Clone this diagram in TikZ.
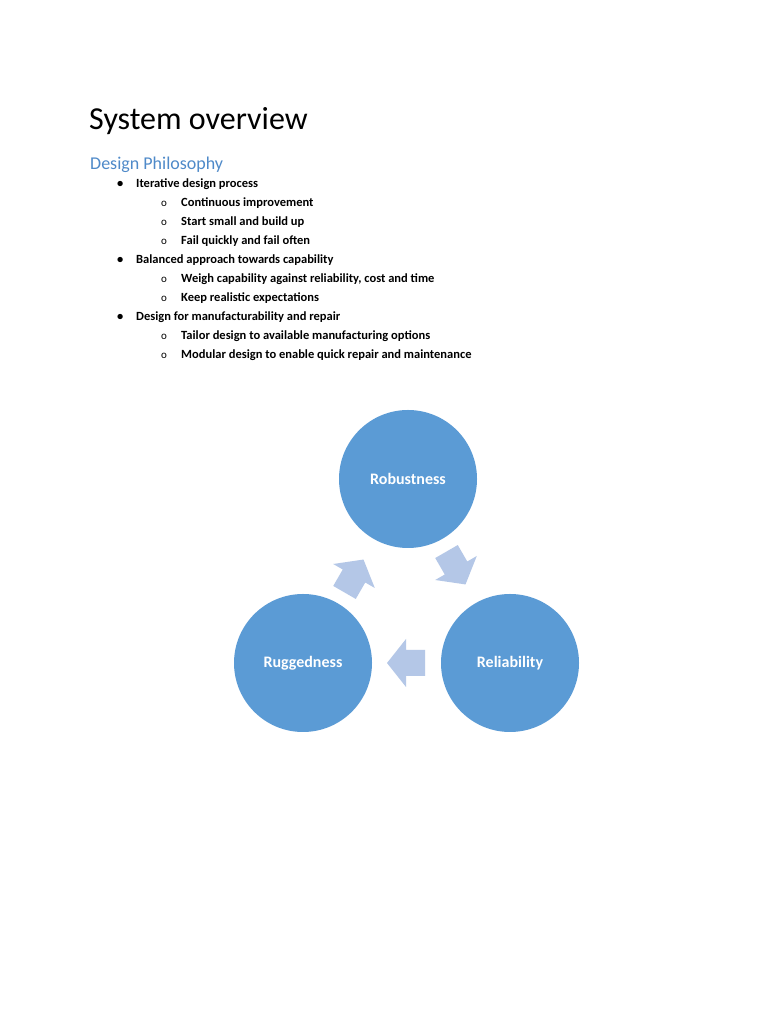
\documentclass[tikz,border=0pt]{standalone}
\usepackage{fontspec}
\setmainfont{Carlito}
\definecolor{circ}{HTML}{5B9BD5}
\definecolor{arr}{HTML}{B4C7E7}
\definecolor{head}{HTML}{4F8AC9}
\begin{document}
\begin{tikzpicture}[x=1pt,y=1pt,
  item/.style={anchor=base west,inner sep=0pt,font=\fontsize{12.5}{14}\selectfont\bfseries},
  circle node/.style={circle,fill=circ,minimum size=138pt,inner sep=0pt,text=white,font=\fontsize{16}{18}\selectfont\bfseries},
  blockarrow/.style={fill=arr,draw=none}]
\useasboundingbox (0,0) rectangle (768,1024);
\fill[white] (0,0) rectangle (768,1024);
\node[anchor=base west,inner sep=0pt,font=\fontsize{32}{36}\selectfont] (title) at (89,894) {System overview};
\node[anchor=base west,inner sep=0pt,text=head,font=\fontsize{18}{20}\selectfont] (sub) at (90,854) {Design Philosophy};
\foreach \y/\t [count=\i] in {188/Iterative design process,264/Balanced approach towards capability,321/Design for manufacturability and repair}{
  \node[item] (b\i) at (117,1024-\y) {\textbullet};
  \node[item] (t\i) at (136,1024-\y) {\t};}
\foreach \y/\t [count=\i] in {207/Continuous improvement,226/Start small and build up,245/Fail quickly and fail often,283/{Weigh capability against reliability, cost and time},302/Keep realistic expectations,340/Tailor design to available manufacturing options,359/Modular design to enable quick repair and maintenance}{
  \node[item,font=\fontsize{11}{12}\selectfont] (o\i) at (161,1024-\y) {o};
  \node[item] (s\i) at (181,1024-\y) {\t};}
\node[circle node] (rob) at (408,545) {Robustness};
\node[circle node] (rug) at (303,361) {Ruggedness};
\node[circle node] (rel) at (510,361) {Reliability};
% block arrows: local shape pointing +x, centred at origin
\foreach \cx/\cy/\a [count=\i] in {456/456/-60, 406/361/180, 354/448/60}{
  \fill[blockarrow,shift={(\cx,\cy)},rotate=\a]
    (-19,-13) -- (0,-13) -- (0,-24) -- (19,0) -- (0,24) -- (0,13) -- (-19,13) -- cycle;}
\end{tikzpicture}
\end{document}
